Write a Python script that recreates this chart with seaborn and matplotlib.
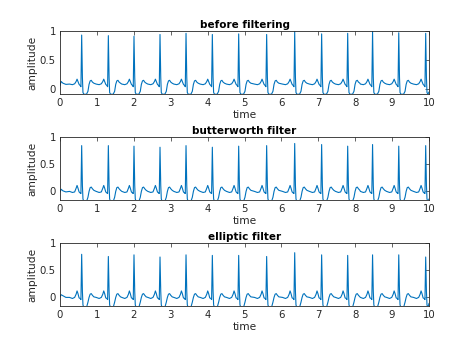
import numpy as np
import matplotlib
matplotlib.use("Agg")
import matplotlib.pyplot as plt
import seaborn as sns
import pandas as pd

# R-peak times (s)
r_times = [0.587, 1.31, 2.005, 2.71, 3.415, 4.128, 4.842, 5.60, 6.36, 7.09, 7.796, 8.47, 9.18, 9.91]

# R-peak amplitudes per panel
r_before = [0.93, 0.92, 0.91, 0.94, 0.96, 0.94, 0.95, 0.94, 0.99, 0.95, 0.96, 0.99, 0.97, 0.96]
r_butter = [0.84, 0.84, 0.83, 0.81, 0.84, 0.81, 0.83, 0.84, 0.88, 0.86, 0.83, 0.86, 0.83, 0.84]
r_ellip = [0.79, 0.75, 0.78, 0.74, 0.78, 0.77, 0.77, 0.75, 0.82, 0.78, 0.77, 0.78, 0.78, 0.74]

# beat shape: time offsets from R peak and values (R value is None)
beat_offsets = [-0.33, -0.25, -0.19, -0.15, -0.125, -0.10, -0.07, -0.04, -0.02, 0.0,
                0.02, 0.035, 0.06, 0.13, 0.17, 0.20, 0.23, 0.26, 0.29, 0.33]
shape_before = [0.085, 0.075, 0.09, 0.13, 0.17, 0.13, 0.08, 0.06, 0.04, None,
                0.20, -0.06, -0.09, -0.09, -0.04, 0.08, 0.14, 0.15, 0.12, 0.10]
shape_butter = [-0.01, -0.03, -0.02, 0.05, 0.10, 0.05, -0.02, -0.04, -0.05, None,
                0.10, -0.15, -0.20, -0.20, -0.12, -0.01, 0.06, 0.07, 0.04, 0.01]
shape_ellip = [-0.01, -0.03, -0.01, 0.05, 0.11, 0.06, -0.02, -0.03, -0.05, None,
               0.10, -0.15, -0.20, -0.20, -0.10, -0.01, 0.05, 0.06, 0.03, 0.0]

# start / end segments
lead_t = [0.0, 0.03, 0.08, 0.16]
lead_before = [0.06, 0.13, 0.10, 0.08]
lead_butter = [-0.02, 0.03, 0.0, -0.02]
lead_ellip = [0.0, 0.04, 0.02, -0.01]
tail_t = [10.0]
tail_before = [-0.05]
tail_butter = [-0.15]
tail_ellip = [-0.12]

panel_titles = ["before filtering", "butterworth filter", "elliptic filter"]
ylims = [(-0.086, 1.0), (-0.17, 1.0), (-0.17, 1.0)]


def build(shape, peaks, lead_v, tail_v):
    t, v = list(lead_t), list(lead_v)
    for rt, pk in zip(r_times, peaks):
        for off, val in zip(beat_offsets, shape):
            tt = rt + off
            if tt <= t[-1] or tt >= 10.0:
                continue
            t.append(tt)
            v.append(pk if val is None else val)
    t += tail_t
    v += tail_v
    return pd.DataFrame({"time": t, "amplitude": v})


series = [build(shape_before, r_before, lead_before, tail_before),
          build(shape_butter, r_butter, lead_butter, tail_butter),
          build(shape_ellip, r_ellip, lead_ellip, tail_ellip)]

sns.set_style("white")
plt.rcParams["font.family"] = ["DejaVu Sans"]
gray = "#262626"

fig = plt.figure(figsize=(4.74, 3.53), dpi=100)
bottoms = [0.7337, 0.4334, 0.1331]
for df, title, yl, b in zip(series, panel_titles, ylims, bottoms):
    ax = fig.add_axes([0.1266, b, 0.7785, 0.1785])
    sns.lineplot(data=df, x="time", y="amplitude", ax=ax, color="#0072BD",
                 linewidth=0.8, estimator=None, sort=False)
    ax.set_xlim(0, 10)
    ax.set_ylim(*yl)
    ax.set_xticks(range(0, 11))
    ax.set_yticks([0, 0.5, 1])
    ax.set_yticklabels(["0", "0.5", "1"])
    ax.tick_params(direction="in", length=2.7, width=0.5, labelsize=7.3,
                   colors=gray, top=True, right=True, pad=3)
    for s in ax.spines.values():
        s.set_color(gray)
        s.set_linewidth(0.6)
    ax.set_xlabel("time", fontsize=7.7, color=gray, labelpad=1.5)
    ax.set_ylabel("amplitude", fontsize=7.7, color=gray, labelpad=1.5)
    ax.set_title(title, fontsize=7.5, fontweight="bold", color="black", pad=2)

fig.savefig("out.png", dpi=100)
